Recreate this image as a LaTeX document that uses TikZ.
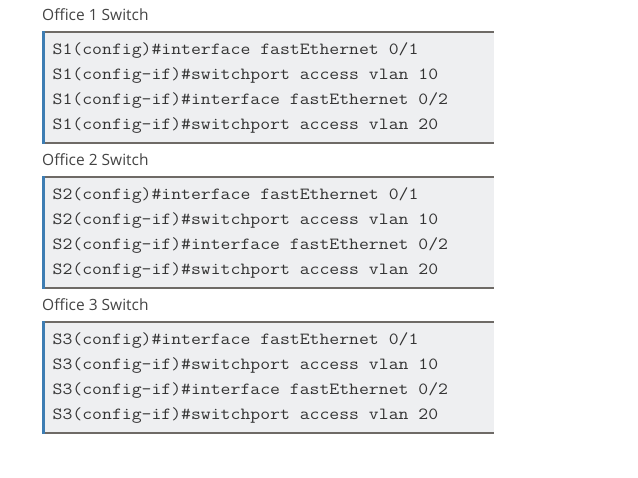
\documentclass[tikz,border=0pt]{standalone}
\usepackage{fontspec}
\usepackage{graphicx}
\newfontfamily\titlefont{Open Sans}
\newcommand\cmdtext[1]{\scalebox{1.129}[1]{#1}}
\definecolor{boxfill}{HTML}{EEEFF1}
\definecolor{boxedge}{HTML}{6E6A66}
\definecolor{boxbar}{HTML}{3D7DB3}
\definecolor{titlegray}{HTML}{444444}
\definecolor{cmdgray}{HTML}{333333}

\begin{document}
\begin{tikzpicture}[x=1pt,y=-1pt,
  title/.style={anchor=base west,inner sep=0pt,text=titlegray,font=\titlefont\fontsize{15.5}{18}\selectfont},
  cmd/.style={anchor=base west,inner sep=0pt,text=cmdgray,font=\ttfamily\fontsize{17}{20}\selectfont},
  edge/.style={draw=boxedge,line width=2pt}]
\useasboundingbox[fill=white] (0,0) rectangle (638,478);
% Office 1
\node[title] (t1) at (42,21) {Office 1 Switch};
\fill[boxfill] (42,32) rectangle (494,143);
\draw[edge] (42,32)--(494,32);
\draw[edge] (42,143)--(494,143);
\fill[boxbar] (42,31) rectangle (45,144);
\node[cmd] (a1) at (52.5,55) {\cmdtext{S1(config)\#interface fastEthernet 0/1}};
\node[cmd] (a2) at (52.5,80) {\cmdtext{S1(config-if)\#switchport access vlan 10}};
\node[cmd] (a3) at (52.5,105) {\cmdtext{S1(config-if)\#interface fastEthernet 0/2}};
\node[cmd] (a4) at (52.5,130) {\cmdtext{S1(config-if)\#switchport access vlan 20}};
% Office 2
\node[title] (t2) at (42,166) {Office 2 Switch};
\fill[boxfill] (42,177) rectangle (494,288);
\draw[edge] (42,177)--(494,177);
\draw[edge] (42,288)--(494,288);
\fill[boxbar] (42,176) rectangle (45,289);
\node[cmd] (b1) at (52.5,200) {\cmdtext{S2(config)\#interface fastEthernet 0/1}};
\node[cmd] (b2) at (52.5,225) {\cmdtext{S2(config-if)\#switchport access vlan 10}};
\node[cmd] (b3) at (52.5,250) {\cmdtext{S2(config-if)\#interface fastEthernet 0/2}};
\node[cmd] (b4) at (52.5,275) {\cmdtext{S2(config-if)\#switchport access vlan 20}};
% Office 3
\node[title] (t3) at (42,311) {Office 3 Switch};
\fill[boxfill] (42,322) rectangle (494,433);
\draw[edge] (42,322)--(494,322);
\draw[edge] (42,433)--(494,433);
\fill[boxbar] (42,321) rectangle (45,434);
\node[cmd] (c1) at (52.5,345) {\cmdtext{S3(config)\#interface fastEthernet 0/1}};
\node[cmd] (c2) at (52.5,370) {\cmdtext{S3(config-if)\#switchport access vlan 10}};
\node[cmd] (c3) at (52.5,395) {\cmdtext{S3(config-if)\#interface fastEthernet 0/2}};
\node[cmd] (c4) at (52.5,420) {\cmdtext{S3(config-if)\#switchport access vlan 20}};
\end{tikzpicture}
\end{document}
